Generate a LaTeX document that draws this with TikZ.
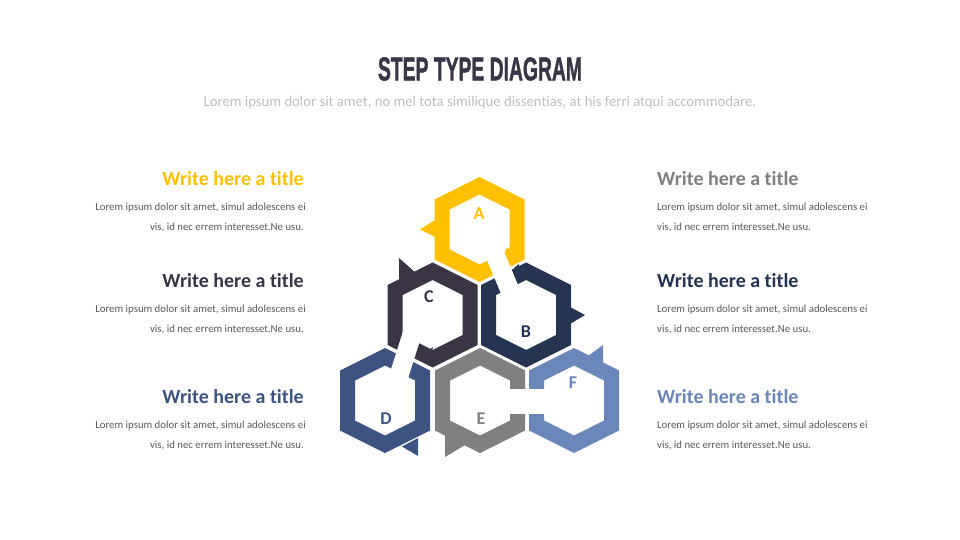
\documentclass[tikz,border=0pt]{standalone}
\usepackage{fontspec}
\usepackage{graphicx}
\setmainfont{Carlito}[Ligatures=NoCommon]
\newfontfamily\titlefont{Liberation Sans}[BoldFeatures={FakeBold=1.5}]
\definecolor{cA}{HTML}{FFC000}
\definecolor{cB}{HTML}{253451}
\definecolor{cC}{HTML}{3A3445}
\definecolor{cD}{HTML}{3D5483}
\definecolor{cE}{HTML}{808080}
\definecolor{cF}{HTML}{6B86B9}
\definecolor{bodygray}{HTML}{595959}
\definecolor{subgray}{HTML}{BFBFBF}
\definecolor{ttlcol}{HTML}{3A3445}
\newcommand\hexring[3]{%
  \begin{scope}[shift={(#2,#3)}]
    \fill[#1,even odd rule] (0,-52.5)--(45,-30)--(45,30)--(0,52.5)--(-45,30)--(-45,-30)--cycle
      (0,-35)--(30,-20)--(30,20)--(0,35)--(-30,20)--(-30,-20)--cycle;
  \end{scope}}
\tikzset{
  ttltext/.style={font=\bfseries\fontsize{20}{24}\selectfont, inner sep=0pt},
  bodytext/.style={font=\fontsize{10.8}{13}\selectfont, text=bodygray, inner sep=0pt},
  hexlabel/.style={font=\bfseries\fontsize{18}{20}\selectfont, inner sep=0pt},
  cutband/.style={draw=white, line width=19pt, line cap=butt},
}
\begin{document}
\begin{tikzpicture}[x=1pt,y=-1pt]
\useasboundingbox (0,0) rectangle (960,540);
\fill[white] (0,0) rectangle (960,540);

% title
\node[inner sep=0pt, text=ttlcol] (title) at (480,69) {\resizebox{204pt}{23pt}{\titlefont\bfseries STEP TYPE DIAGRAM}};
\node[font=\fontsize{14.7}{17}\selectfont, text=subgray, inner sep=0pt] (subtitle) at (480,103)
  {Lorem ipsum dolor sit amet, no mel tota similique dissentias, at his ferri atqui accommodare.};

% hexagon rings
\hexring{cA}{479.5}{229.5}
\hexring{cB}{526}{315}
\hexring{cC}{432.5}{315}
\hexring{cD}{385}{400.5}
\hexring{cE}{480}{400.5}
\hexring{cF}{574}{400.5}

% barbs
\fill[cA] (435,220)--(420,229.5)--(435,237)--cycle;
\fill[cB] (570,307)--(585,315)--(570,324)--cycle;
\fill[cC] (399,258)--(399,281.5)--(416,273)--cycle;
\fill[cD] (418,438)--(418,456)--(402,446.5)--cycle;
\fill[cE] (445,435)--(445,457)--(465,445)--cycle;
\fill[cF] (603,362.5)--(603,345)--(588,356)--cycle;

% cut bands
\coordinate (abtop) at (489,240);
\coordinate (abbot) at (516,305);
\draw[cutband] (abtop) -- (abbot);
\coordinate (cdtop) at (414,328);
\coordinate (cdbot) at (396,385);
\draw[cutband] (cdtop) -- (cdbot);
\fill[white] (505,389) rectangle (550,414);

% small arrow barbs at the ring ends
\fill[cA] (509.5,247)--(505,250)--(509.5,254)--cycle;
\fill[cB] (519,264)--(514,268)--(519,272)--cycle;
\fill[cC] (433,347)--(419,357)--(430,361)--cycle;

% hexagon labels
\node[hexlabel, text=cA] (lA) at (479,214) {A};
\node[hexlabel, text=cB] (lB) at (526,332) {B};
\node[hexlabel, text=cC] (lC) at (429,297) {C};
\node[hexlabel, text=cD] (lD) at (386,419) {D};
\node[hexlabel, text=cE] (lE) at (481,419) {E};
\node[hexlabel, text=cF] (lF) at (573,383) {F};

% left column
\node[ttltext, text=cA, anchor=east] (lt1) at (304,179) {Write here a title};
\node[bodytext, anchor=east] (lb1a) at (306,208) {Lorem ipsum dolor sit amet, simul adolescens ei};
\node[bodytext, anchor=east] (lb1b) at (304,227) {vis, id nec errem interesset.Ne usu.};
\node[ttltext, text=cC, anchor=east] (lt2) at (304,281) {Write here a title};
\node[bodytext, anchor=east] (lb2a) at (306,310) {Lorem ipsum dolor sit amet, simul adolescens ei};
\node[bodytext, anchor=east] (lb2b) at (304,329) {vis, id nec errem interesset.Ne usu.};
\node[ttltext, text=cD, anchor=east] (lt3) at (304,397) {Write here a title};
\node[bodytext, anchor=east] (lb3a) at (306,426) {Lorem ipsum dolor sit amet, simul adolescens ei};
\node[bodytext, anchor=east] (lb3b) at (304,445) {vis, id nec errem interesset.Ne usu.};

% right column
\node[ttltext, text=cE, anchor=west] (rt1) at (657,179) {Write here a title};
\node[bodytext, anchor=west] (rb1a) at (657,208) {Lorem ipsum dolor sit amet, simul adolescens ei};
\node[bodytext, anchor=west] (rb1b) at (657,227) {vis, id nec errem interesset.Ne usu.};
\node[ttltext, text=cB, anchor=west] (rt2) at (657,281) {Write here a title};
\node[bodytext, anchor=west] (rb2a) at (657,310) {Lorem ipsum dolor sit amet, simul adolescens ei};
\node[bodytext, anchor=west] (rb2b) at (657,329) {vis, id nec errem interesset.Ne usu.};
\node[ttltext, text=cF, anchor=west] (rt3) at (657,397) {Write here a title};
\node[bodytext, anchor=west] (rb3a) at (657,426) {Lorem ipsum dolor sit amet, simul adolescens ei};
\node[bodytext, anchor=west] (rb3b) at (657,445) {vis, id nec errem interesset.Ne usu.};
\end{tikzpicture}
\end{document}
